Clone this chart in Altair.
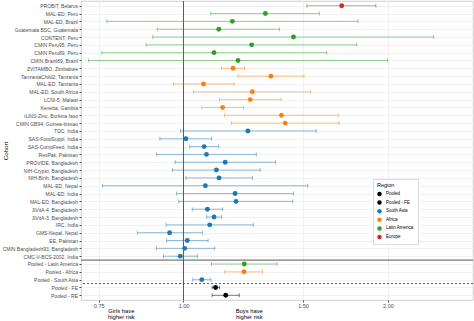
import altair as alt
import pandas as pd

cohorts = [
    "PROBIT, Belarus", "MAL-ED, Peru", "MAL-ED, Brazil", "Guatemala BSC, Guatemala",
    "CONTENT, Peru", "CMIN Peru95, Peru", "CMIN Peru89, Peru", "CMIN Brazil89, Brazil",
    "ZVITAMBO, Zimbabwe", "TanzaniaChild2, Tanzania", "MAL-ED, Tanzania",
    "MAL-ED, South Africa", "LCNI-5, Malawi", "Keneba, Gambia",
    "iLiNS-Zinc, Burkina faso", "CMIN GB94, Guinea-bissau", "TDC, India",
    "SAS-FoodSuppl, India", "SAS-CompFeed, India", "ResPak, Pakistan",
    "PROVIDE, Bangladesh", "NIH-Crypto, Bangladesh", "NIH-Birth, Bangladesh",
    "MAL-ED, Nepal", "MAL-ED, India", "MAL-ED, Bangladesh", "JiVitA-4, Bangladesh",
    "JiVitA-3, Bangladesh", "IRC, India", "GMS-Nepal, Nepal", "EE, Pakistan",
    "CMIN Bangladesh93, Bangladesh", "CMC-V-BCS-2002, India",
    "Pooled - Latin America", "Pooled - Africa", "Pooled - South Asia",
    "Pooled - FE", "Pooled - RE",
]
regions = (
    ["Europe"] + ["Latin America"] * 7 + ["Africa"] * 8 + ["South Asia"] * 17
    + ["Latin America", "Africa", "South Asia", "Pooled - FE", "Pooled"]
)
estimate = [1.71, 1.32, 1.18, 1.127, 1.452, 1.26, 1.109, 1.203,
            1.183, 1.345, 1.07, 1.263, 1.254, 1.142, 1.394, 1.412,
            1.244, 1.008, 1.0725, 1.081, 1.152, 1.118, 1.128, 1.077,
            1.191, 1.195, 1.0845, 1.109, 1.093, 0.954, 1.013, 1.004, 0.989,
            1.229, 1.228, 1.064, 1.115, 1.154]
lower = [1.52, 1.097, 0.771, 0.915, 0.901, 0.881, 0.758, 0.725,
         1.138, 1.203, 0.966, 1.034, 1.13, 1.064, 1.149, 1.177,
         0.99, 0.923, 1.0215, 0.913, 0.972, 0.963, 1.008, 0.76,
         0.977, 0.984, 1.03, 1.082, 0.943, 0.855, 0.944, 0.912, 0.934,
         1.099, 1.15, 1.032, 1.102, 1.102]
upper = [1.92, 1.585, 1.807, 1.385, 2.336, 1.80, 1.625, 1.998,
         1.23, 1.505, 1.187, 1.539, 1.393, 1.226, 1.69, 1.696,
         1.568, 1.10, 1.127, 1.28, 1.366, 1.297, 1.263, 1.524,
         1.452, 1.449, 1.142, 1.138, 1.267, 1.066, 1.087, 1.112, 1.048,
         1.373, 1.307, 1.097, 1.13, 1.208]

legend_order = ["Pooled", "Pooled - FE", "South Asia", "Africa", "Latin America", "Europe"]
legend_colors = ["#000000", "#000000", "#1f77b4", "#ff7f0e", "#2ca02c", "#d62728"]

x_ticks = [0.75, 1.0, 1.5, 2.0]
x_domain = [0.7064, 2.669]
null_value = [1.0]
solid_sep = ["Pooled - Latin America"]
dashed_sep = ["Pooled - FE"]
annot_text = ["Girls have\nhigher risk", "Boys have\nhigher risk"]
annot_x = [0.81, 1.25]

df = pd.DataFrame({"cohort": cohorts, "region": regions, "est": estimate,
                   "lo": lower, "hi": upper})

W, H = 392, 299
n = len(cohorts)
step = H / (n - 1 + 1.2)

xscale = alt.Scale(type="log", domain=x_domain, nice=False, zero=False)
yscale = alt.Scale(type="point", domain=cohorts, padding=0.6)
cscale = alt.Scale(domain=legend_order, range=legend_colors)

legend = alt.Legend(title="Region", orient="none",
                    legendX=292, legendY=178,
                    fillColor="white", strokeColor="#dddddd",
                    padding=4, titleFontSize=5.5,
                    titleFontWeight="normal", titlePadding=3,
                    labelFontSize=4.5, symbolSize=20,
                    symbolType="circle", symbolOpacity=1,
                    symbolStrokeWidth=0,
                    rowPadding=2.6, labelOffset=4)
C = alt.Color("region:N", scale=cscale, legend=legend)

X = lambda f: alt.X(f, type="quantitative", scale=xscale,
                    axis=alt.Axis(values=x_ticks, format=".2f", title=None,
                                  labelFontSize=5.5, labelColor="#4d4d4d",
                                  tickSize=2, tickColor="#4d4d4d", labelPadding=1.5,
                                  grid=True, gridColor="#ebebeb", gridWidth=0.7,
                                  domain=False))
Y = alt.Y("cohort:N", scale=yscale, sort=cohorts,
          axis=alt.Axis(title="Cohort", labelFontSize=5, labelColor="#4d4d4d",
                        tickSize=2, tickColor="#4d4d4d", labelPadding=1.5,
                        grid=True, gridColor="#ebebeb", gridWidth=0.7, domain=False,
                        titleFontSize=6.2, titleFontWeight="normal", titleColor="#000000",
                        titleX=-76, titleY=H / 2, titleAngle=-90,
                        titleAlign="center", titleBaseline="middle"))

base = alt.Chart(df)

vref = alt.Chart(pd.DataFrame({"v": null_value})).mark_rule(
    color="#333333", strokeWidth=0.8).encode(x=X("v"))

sep1 = alt.Chart(pd.DataFrame({"cohort": solid_sep})).mark_rule(
    color="#444444", strokeWidth=0.9, yOffset=-step / 2).encode(y=Y)
sep2 = alt.Chart(pd.DataFrame({"cohort": dashed_sep})).mark_rule(
    color="#444444", strokeWidth=0.9, strokeDash=[2, 2], yOffset=-step / 2).encode(y=Y)

points = base.mark_circle(size=24, opacity=1).encode(x=X("est"), y=Y, color=C)

bars = base.mark_rule(strokeWidth=0.9, opacity=0.55).encode(
    x=X("lo"), x2="hi", y=Y, color=C)

caps = base.transform_fold(["lo", "hi"], as_=["which", "val"]).mark_tick(
    size=4, thickness=0.9, opacity=0.55).encode(x=X("val"), y=Y, color=C)

annot = alt.Chart(pd.DataFrame({"t": annot_text, "x": annot_x})).mark_text(
    baseline="top", align="center", fontSize=5.8, lineBreak="\n",
    lineHeight=6.3, color="#000000").encode(
    x=X("x"), y=alt.value(306.5), text="t:N")

chart = alt.layer(vref, sep1, sep2, bars, caps, points, annot).properties(
    width=W, height=H,
    autosize=alt.AutoSizeParams(type="none"),
    padding={"left": 81, "top": 1, "right": 1, "bottom": 21},
    background="white",
).configure(font="Liberation Sans").configure_view(
    stroke="#c4c4c4", strokeWidth=0.8)

chart.save("out.html", embed_options={"renderer": "svg", "actions": False})
